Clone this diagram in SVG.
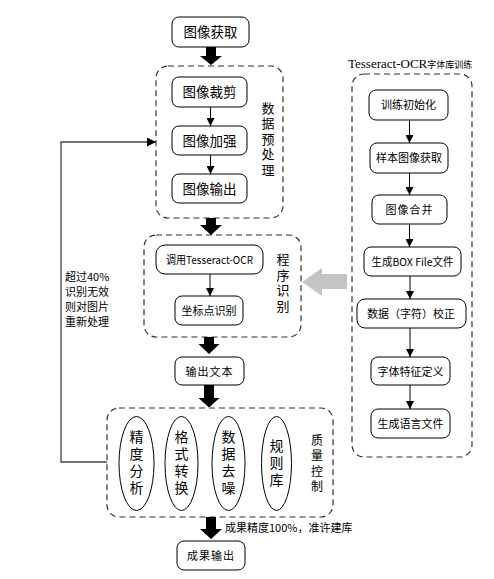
<svg xmlns="http://www.w3.org/2000/svg" width="494" height="579" viewBox="0 0 494 579">
<style>
  .box{fill:#fff;stroke:#000;stroke-width:1}
  .dash{fill:none;stroke:#333;stroke-width:1.2;stroke-dasharray:6 4}
  .t{font-family:"Noto Sans CJK SC","Liberation Sans",sans-serif;fill:#000;text-anchor:middle}
  .l14{font-size:13.5px}
  .l11{font-size:11px}
  .vt{writing-mode:vertical-rl}
  .v13{font-size:13px;letter-spacing:2.5px}
  .v14{font-size:14px;letter-spacing:3px}
  .v12{font-size:12px;letter-spacing:3.5px}
  .thin{stroke:#000;stroke-width:1;fill:none}
  .big{fill:#000}
  .ell{fill:#fff;stroke:#000;stroke-width:1}
</style>
<defs>
  <marker id="ah" markerWidth="8" markerHeight="8" refX="8" refY="4" orient="auto" markerUnits="userSpaceOnUse">
    <path d="M0,0 L8,4 L0,8 Z" fill="#000"/>
  </marker>
  <marker id="ahg" markerWidth="9" markerHeight="9" refX="9" refY="4.5" orient="auto" markerUnits="userSpaceOnUse">
    <path d="M0,0 L9,4.5 L0,9 Z" fill="#000"/>
  </marker>
</defs>
<rect width="494" height="579" fill="#fff"/>

<!-- dashed containers -->
<g id="group-preprocess">
  <rect class="dash" x="156" y="66" width="127" height="152" rx="12"/>
  <text class="t vt v13" x="268" y="140">数据预处理</text>
</g>
<g id="group-recognize">
  <rect class="dash" x="144" y="235" width="157" height="102" rx="12"/>
  <text class="t vt v13" x="283" y="284">程序识别</text>
</g>
<g id="group-quality">
  <rect class="dash" x="107" y="408" width="226" height="109" rx="12"/>
  <text class="t vt v12" x="317" y="465">质量控制</text>
</g>
<g id="group-training">
  <rect class="dash" x="352" y="74" width="120" height="383" rx="12"/>
  <text x="348" y="68" style="font-family:'Liberation Serif',serif;font-size:13px;fill:#000">Tesseract-OCR<tspan style="font-family:'Noto Sans CJK SC',sans-serif;font-size:9px">字体库训练</tspan></text>
</g>

<!-- left column nodes -->
<g id="n-acquire"><rect class="box" x="172" y="17" width="77" height="30" rx="7"/><text class="t l14" x="210.5" y="37">图像获取</text></g>
<g id="n-crop"><rect class="box" x="172" y="77" width="75" height="30" rx="7"/><text class="t l14" x="209.5" y="97">图像裁剪</text></g>
<g id="n-enhance"><rect class="box" x="172" y="126" width="75" height="29" rx="7"/><text class="t l14" x="209.5" y="145.5">图像加强</text></g>
<g id="n-output-img"><rect class="box" x="172" y="174" width="75" height="29" rx="7"/><text class="t l14" x="209.5" y="193.5">图像输出</text></g>
<g id="n-call-ocr"><rect class="box" x="156" y="245" width="107" height="29" rx="9"/><text class="t l11" x="209.5" y="264" textLength="87" lengthAdjust="spacingAndGlyphs">调用Tesseract-OCR</text></g>
<g id="n-coords"><rect class="box" x="175" y="296" width="68" height="29" rx="7"/><text class="t l11" x="209" y="315">坐标点识别</text></g>
<g id="n-text"><rect class="box" x="175" y="357" width="69" height="28" rx="7"/><text class="t l11" x="209.5" y="375.5" style="letter-spacing:1px">输出文本</text></g>
<g id="n-result"><rect class="box" x="177" y="541" width="68" height="29" rx="7"/><text class="t l11" x="211" y="560" style="letter-spacing:1px">成果输出</text></g>

<!-- quality ellipses -->
<g id="n-precision"><ellipse class="ell" cx="136.5" cy="463.5" rx="17.5" ry="47"/><text class="t vt v14" x="136.5" y="464">精度分析</text></g>
<g id="n-format"><ellipse class="ell" cx="181.5" cy="463.5" rx="16.5" ry="47"/><text class="t vt v14" x="181.5" y="464">格式转换</text></g>
<g id="n-denoise"><ellipse class="ell" cx="228.5" cy="463.5" rx="16.5" ry="47"/><text class="t vt v14" x="228.5" y="464">数据去噪</text></g>
<g id="n-rules"><ellipse class="ell" cx="276.5" cy="463.5" rx="15" ry="47"/><text class="t vt v14" x="276.5" y="464">规则库</text></g>

<!-- right column nodes -->
<g id="r-init"><rect class="box" x="369" y="90" width="79" height="30" rx="7"/><text class="t l11" x="408.5" y="109">训练初始化</text></g>
<g id="r-sample"><rect class="box" x="370" y="143" width="78" height="30" rx="7"/><text class="t l11" x="409" y="162">样本图像获取</text></g>
<g id="r-merge"><rect class="box" x="372" y="195" width="75" height="29" rx="7"/><text class="t l11" x="409.5" y="214" style="letter-spacing:1px">图像合并</text></g>
<g id="r-box"><rect class="box" x="364" y="247" width="97" height="29" rx="7"/><text class="t l11" x="412.5" y="266" textLength="82" lengthAdjust="spacingAndGlyphs">生成BOX File文件</text></g>
<g id="r-correct"><rect class="box" x="357" y="299" width="109" height="29" rx="8"/><text class="t l11" x="411" y="318">数据（字符）校正</text></g>
<g id="r-feature"><rect class="box" x="371" y="357" width="79" height="28" rx="7"/><text class="t l11" x="410.5" y="375.5">字体特征定义</text></g>
<g id="r-lang"><rect class="box" x="371" y="409" width="79" height="29" rx="7"/><text class="t l11" x="410.5" y="428">生成语言文件</text></g>

<!-- free labels -->
<g id="label-retry" class="t l11" style="text-anchor:start">
  <text x="65" y="281">超过40%</text>
  <text x="65" y="296">识别无效</text>
  <text x="65" y="311">则对图片</text>
  <text x="65" y="326">重新处理</text>
</g>
<text class="t l11" x="225" y="532" style="text-anchor:start">成果精度100%，准许建库</text>

<!-- connectors -->
<g id="connectors">
  <path class="big" d="M206,47 H216 V56 H222 L211,65 L200,56 H206 Z"/>
  <path class="big" d="M206,218 H216 V225 H222 L211,235 L200,225 H206 Z"/>
  <path class="big" d="M204,337 H214 V344 H219.5 L209,354 L198.5,344 H204 Z"/>
  <path class="big" d="M204,385 H214 V398 H219.5 L209,407.5 L198.5,398 H204 Z"/>
  <path class="big" d="M206,517 H216 V529 H222 L211,539 L200,529 H206 Z"/>
  <line class="thin" x1="210.5" y1="107" x2="210.5" y2="126" marker-end="url(#ah)"/>
  <line class="thin" x1="210.5" y1="155" x2="210.5" y2="174" marker-end="url(#ah)"/>
  <line class="thin" x1="210" y1="274" x2="210" y2="296" marker-end="url(#ah)"/>
  <line class="thin" x1="409.5" y1="120" x2="409.5" y2="143" marker-end="url(#ah)"/>
  <line class="thin" x1="409.5" y1="173" x2="409.5" y2="195" marker-end="url(#ah)"/>
  <line class="thin" x1="409.5" y1="224" x2="409.5" y2="247" marker-end="url(#ah)"/>
  <line class="thin" x1="410" y1="276" x2="410" y2="299" marker-end="url(#ah)"/>
  <line class="thin" x1="410" y1="328" x2="410" y2="357" marker-end="url(#ah)"/>
  <line class="thin" x1="410" y1="385" x2="410" y2="409" marker-end="url(#ah)"/>
  <polyline points="107,462 61,462 61,142 156,142" fill="none" stroke="#444" stroke-width="1.3" marker-end="url(#ahg)"/>
  <path d="M347,274 H322 V268 L302,282 L322,296 V289 H347 Z" fill="#c4c4c4"/>
</g>
</svg>
